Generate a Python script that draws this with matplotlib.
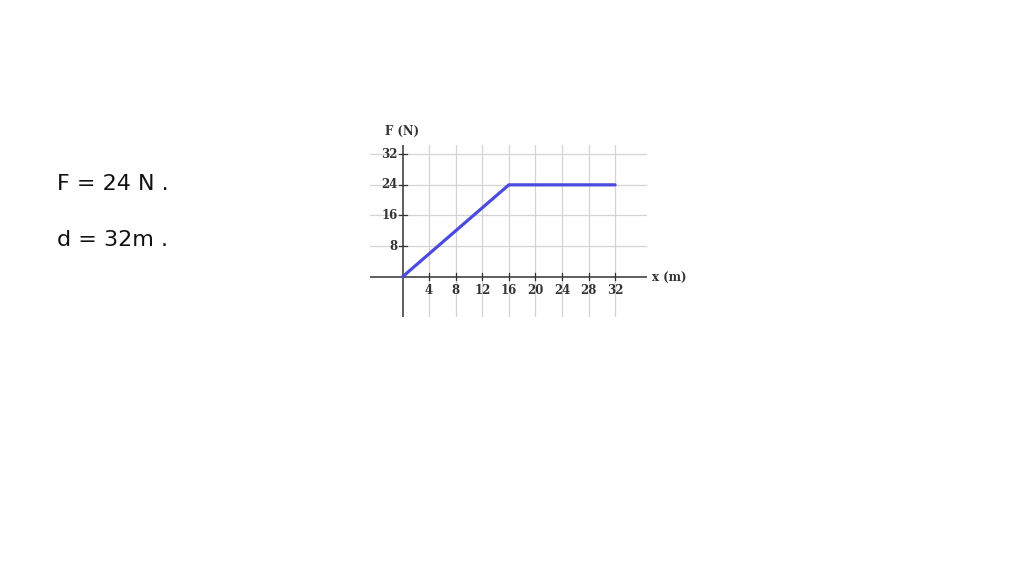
import matplotlib.pyplot as plt

# force vs position data
x_pts = [0, 16, 32]
f_pts = [0, 24, 24]
x_ticks = [4, 8, 12, 16, 20, 24, 28, 32]
y_ticks = [8, 16, 24, 32]
notes = ["F = 24 N .", "d = 32m ."]

W, H = 1024, 576
fig = plt.figure(figsize=(W / 100, H / 100), dpi=100)

# axes placed in pixel box of the reference
left, right, top, bottom = 370, 647, 145, 317
ax = fig.add_axes([left / W, 1 - bottom / H, (right - left) / W, (bottom - top) / H])
ax.set_xlim(-4.9, 36.8)
ax.set_ylim(-10.5, 34.4)
for s in ax.spines.values():
    s.set_visible(False)
ax.set_xticks([])
ax.set_yticks([])

for xv in x_ticks:
    ax.axvline(xv, color="#d4d4d4", lw=0.9, zorder=1)
for yv in y_ticks:
    ax.axhline(yv, color="#d4d4d4", lw=0.9, zorder=1)
ax.axhline(0, color="#333333", lw=1.1, zorder=2)
ax.axvline(0, color="#333333", lw=1.1, zorder=2)

# small tick marks crossing axes
for xv in x_ticks:
    ax.plot([xv, xv], [-0.9, 0.9], color="#333333", lw=0.9, zorder=2)
    ax.text(xv, -1.8, str(xv), ha="center", va="top", fontsize=8.5,
            family="DejaVu Serif", fontweight="bold", color="#333333")
for yv in y_ticks:
    ax.plot([-0.6, 0.6], [yv, yv], color="#333333", lw=0.9, zorder=2)
    ax.text(-0.7, yv, str(yv), ha="right", va="center", fontsize=8.5,
            family="DejaVu Serif", fontweight="bold", color="#333333")

ax.plot(x_pts, f_pts, color="#4b4be0", lw=2.3, zorder=3, solid_capstyle="round")

fig.text(385 / W, 1 - 131 / H, "F (N)", ha="left", va="center", fontsize=8.5,
         family="DejaVu Serif", fontweight="bold", color="#333333")
fig.text(652 / W, 1 - 278 / H, "x (m)", ha="left", va="center", fontsize=8.5,
         family="DejaVu Serif", fontweight="bold", color="#333333")

fig.text(57 / W, 1 - 184 / H, notes[0], ha="left", va="center", fontsize=16,
         family="DejaVu Sans", color="#111111")
fig.text(57 / W, 1 - 240 / H, notes[1], ha="left", va="center", fontsize=16,
         family="DejaVu Sans", color="#111111")

fig.savefig("out.png", dpi=100, facecolor="white")
